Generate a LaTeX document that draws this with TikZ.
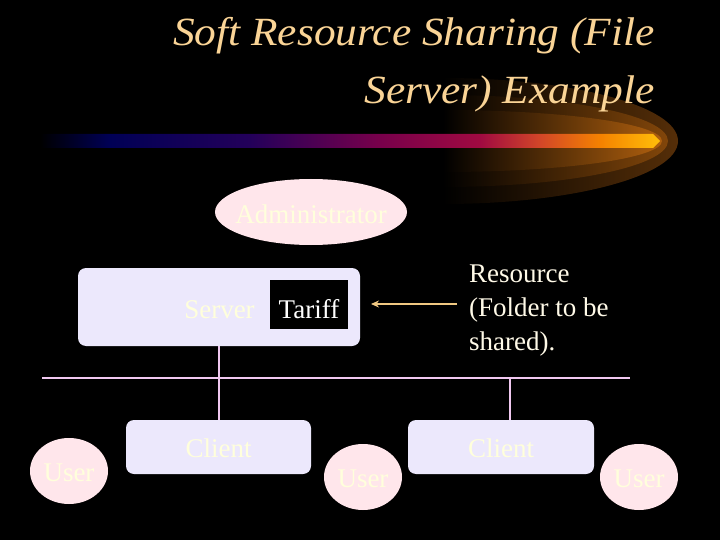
\documentclass[tikz,border=0pt]{standalone}
\usepackage{fontspec}
\setmainfont{Liberation Serif}
\newfontfamily\titlefont{Liberation Serif}[FakeStretch=1.085]
\usetikzlibrary{arrows.meta}
\definecolor{titlec}{RGB}{250,212,150}
\definecolor{lav}{RGB}{236,232,252}
\definecolor{pinkfill}{RGB}{255,230,235}
\definecolor{paletext}{RGB}{255,255,220}
\definecolor{bus}{RGB}{240,200,240}
\definecolor{arrowc}{RGB}{240,200,130}
\definecolor{restext}{RGB}{255,250,232}
\definecolor{glowA}{RGB}{85,46,8}
\definecolor{glowB}{RGB}{130,70,10}
\definecolor{glowC}{RGB}{175,95,14}
\definecolor{bnavy}{RGB}{0,0,85}
\definecolor{bpurp}{RGB}{35,0,90}
\definecolor{bmag}{RGB}{120,0,75}
\definecolor{bcrim}{RGB}{160,10,65}
\definecolor{bred}{RGB}{210,70,40}
\definecolor{borange}{RGB}{245,130,0}
\definecolor{byellow}{RGB}{255,190,10}
\pgfdeclarehorizontalshading{barshade}{100bp}{color(0bp)=(black); color(25bp)=(black); color(30.6bp)=(bnavy); color(41.9bp)=(bpurp); color(52.4bp)=(bmag); color(60.5bp)=(bcrim); color(65.3bp)=(bred); color(70.2bp)=(borange); color(75bp)=(byellow); color(100bp)=(byellow)}
\tikzset{
  titletext/.style={font=\titlefont\fontsize{40}{46}\selectfont\itshape, text=titlec, anchor=base east, inner sep=0},
  bodytext/.style={font=\fontsize{27}{34}\selectfont, inner sep=0, anchor=base},
  pale/.style={bodytext, text=paletext},
  roundbox/.style={fill=lav, rounded corners=8pt},
  userell/.style={fill=pinkfill},
  busline/.style={draw=bus, line width=2.2pt},
}
\begin{document}
\begin{tikzpicture}[x=1pt,y=-1pt]
\fill[black] (0,0) rectangle (720,540);
\useasboundingbox (0,0) rectangle (720,540);
% glow
\shade[left color=black, middle color=glowA, right color=glowA] (443,78) arc[start angle=-90, end angle=90, x radius=235, y radius=63] -- cycle;
\shade[left color=black, middle color=glowB, right color=glowB] (443,95) arc[start angle=-90, end angle=90, x radius=225, y radius=46] -- cycle;
\shade[left color=black, middle color=glowC, right color=glowC] (443,110) arc[start angle=-90, end angle=90, x radius=219, y radius=31] -- cycle;
% bar
\shade[shading=barshade] (40,134) -- (653,134) -- (660,141) -- (653,148) -- (40,148) -- cycle;
% title
\node[titletext] (t1) at (655,46) {Soft Resource Sharing (File};
\node[titletext] (t2) at (655,104) {Server) Example};
% administrator
\fill[userell] (311,212) ellipse [x radius=96, y radius=33];
\node[pale] (admin) at (311,223) {Administrator};
% server
\fill[roundbox] (78,268) rectangle (360,346);
\node[pale] (server) at (219.5,318) {Server};
\fill[black] (270,280) rectangle (348,329);
\node[bodytext, text=white] (tariff) at (309,318) {Tariff};
% resource
\node[bodytext, text=restext, anchor=base west, align=left] (res) at (469,350) {Resource\\(Folder to be\\shared).};
\coordinate (arrs) at (457,304);
\coordinate (arre) at (371,304);
\draw[arrowc, line width=2pt, -{Stealth[length=8pt,width=7pt]}] (arrs) -- (arre);
% bus
\coordinate (busL) at (42,378);
\coordinate (busR) at (630,378);
\coordinate (srvB) at (219,346);
\coordinate (tapR) at (510,378);
\draw[busline] (busL) -- (busR);
% clients
\fill[roundbox] (126,420) rectangle (311,474);
\fill[roundbox] (408,420) rectangle (594,474);
\coordinate (c1T) at (219,420);
\coordinate (c2T) at (510,420);
\draw[busline, line width=2pt] (srvB) -- (c1T);
\draw[busline, line width=2pt] (tapR) -- (c2T);
\node[pale] (client1) at (218.5,457) {Client};
\node[pale] (client2) at (501,457) {Client};
% users
\fill[userell] (69,471) ellipse [x radius=39, y radius=33];
\fill[userell] (363,477) ellipse [x radius=39, y radius=33];
\fill[userell] (639,477) ellipse [x radius=39, y radius=33];
\node[pale] (user1) at (69,481) {User};
\node[pale] (user2) at (363,487) {User};
\node[pale] (user3) at (639,487) {User};
\end{tikzpicture}
\end{document}
